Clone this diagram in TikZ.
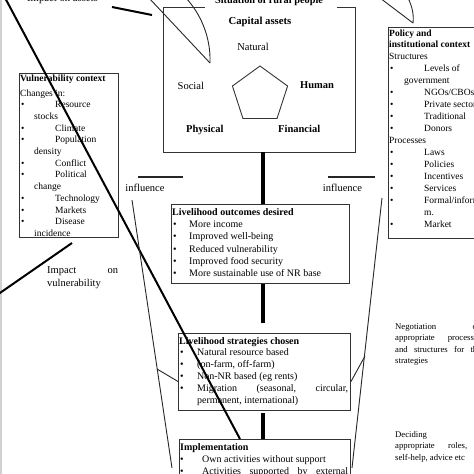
\documentclass[tikz,border=0pt]{standalone}
\usepackage{fontspec}
\setmainfont{Liberation Serif}
\usetikzlibrary{shapes.geometric}
\newcommand\lns[1]{\begin{tabular}[t]{@{}l@{}}#1\end{tabular}}
\newcommand\bulw[2]{\hspace*{1pt}\makebox[#1][l]{\textbullet}#2}
\begin{document}
\begin{tikzpicture}[x=1pt,y=-1pt,
  boxline/.style={draw=black!80,line width=1pt},
  box/.style={boxline,inner sep=0pt,anchor=north west},
  txt/.style={inner sep=0pt,anchor=base west,font=\fontsize{10}{12}\selectfont},
  ctxt/.style={inner sep=0pt,anchor=base,font=\fontsize{10.5}{12}\selectfont},
  small/.style={inner sep=0pt,anchor=base west,font=\fontsize{8.7}{11.5}\selectfont},
  heavy/.style={line width=4pt,black},
  diag/.style={line width=2pt,black},
  thinline/.style={line width=0.9pt,black!85}]
\useasboundingbox (0,0) rectangle (474,474);
\fill[black!18] (0,0) rectangle (1.8,474);

% top-left label and wedges
\node[ctxt,font=\fontsize{10.7}{12}\selectfont] (ia) at (62.5,1.5) {Impact on assets};
\coordinate (ia0) at (112,7);
\coordinate (ia1) at (152,15);
\draw[diag] (ia0) -- (ia1);
\coordinate (wl0) at (149,-2);
\coordinate (wl1) at (186,-2);
\coordinate (wlp) at (210,63);
\draw[thinline] (wl0) -- (wlp);
\draw[thinline] (wl1) .. controls (199,12) and (211,35) .. (wlp);
\coordinate (wr0) at (380,-2);
\coordinate (wr1) at (408,-2);
\coordinate (wrp) at (413,23);
\draw[thinline] (wr0) -- (wrp);
\draw[thinline] (wr1) .. controls (412,6) and (414,14) .. (wrp);

% situation box
\node[inner sep=0pt,minimum width=192pt,minimum height=145pt,anchor=north west] (sit) at (163,7) {};
\node[ctxt,font=\fontsize{10.3}{12}\selectfont\bfseries] (sittitle) at (269,3) {Situation of rural people};
\coordinate (sg1) at (205,7);
\coordinate (sg2) at (337,7);
\draw[boxline] (sg1) -- (sit.north west) -- (sit.south west) -- (sit.south east) -- (sit.north east) -- (sg2);
\node[ctxt,font=\fontsize{10.7}{12}\selectfont\bfseries] (cap) at (260,24.5) {Capital assets};
\node[ctxt] (nat) at (253,50.5) {Natural};
\node[txt,font=\fontsize{10.5}{12}\selectfont] (soc) at (177.5,89.5) {Social};
\node[txt,font=\fontsize{10.5}{12}\selectfont\bfseries] (hum) at (300,88.5) {Human};
\node[txt,font=\fontsize{10.5}{12}\selectfont\bfseries] (phy) at (186,132.5) {Physical};
\node[txt,font=\fontsize{10.5}{12}\selectfont\bfseries] (fin) at (278,132.5) {Financial};
\node[regular polygon,regular polygon sides=5,minimum size=58pt,inner sep=0pt,draw=black!80,line width=0.9pt] (pent) at (260,95) {};

% influence
\coordinate (il0) at (138,177);
\coordinate (il1) at (183,177);
\draw[thinline,line width=1.1pt] (il0) -- (il1);
\node[ctxt] (infl) at (145,191) {influence};
\coordinate (ir0) at (328,177);
\coordinate (ir1) at (375,177);
\draw[thinline,line width=1.1pt] (ir0) -- (ir1);
\node[ctxt] (infr) at (342.5,191) {influence};

% vulnerability context
\node[box,minimum width=99pt,minimum height=164pt] (vul) at (19,73) {};
\node[txt,font=\fontsize{9.5}{11.7}\selectfont\bfseries] (vult) at (20,81.5) {Vulnerability context};
\begin{scope}
\clip (19,73) rectangle (118,237);
\node[txt,font=\fontsize{9.5}{11.7}\selectfont] (vull) at (20,96) {\lns{Changes in:\\
\bulw{34pt}{Resource}\\
\hspace*{14pt}stocks\\
\bulw{34pt}{Climate}\\
\bulw{34pt}{Population}\\
\hspace*{14pt}density\\
\bulw{34pt}{Conflict}\\
\bulw{34pt}{Political}\\
\hspace*{14pt}change\\
\bulw{34pt}{Technology}\\
\bulw{34pt}{Markets}\\
\bulw{34pt}{Disease}\\
\hspace*{14pt}incidence}};
\end{scope}
\node[txt,font=\fontsize{10.5}{13}\selectfont] (iv) at (47,273) {\lns{\makebox[71pt][s]{Impact\hfill on}\\ vulnerability}};
\coordinate (iv0) at (-3,295);
\coordinate (iv1) at (72,243);
\draw[diag] (iv0) -- (iv1);

% policy context
\node[box,minimum width=120pt,minimum height=211pt] (pol) at (388,27) {};
\node[txt,font=\fontsize{9.5}{11.95}\selectfont] (polt) at (389,36) {\lns{\textbf{Policy and}\\
\textbf{institutional context}\\
Structures\\
\bulw{34pt}{Levels of}\\
\hspace*{15pt}government\\
\bulw{34pt}{NGOs/CBOs}\\
\bulw{34pt}{Private sector}\\
\bulw{34pt}{Traditional}\\
\bulw{34pt}{Donors}\\
Processes\\
\bulw{34pt}{Laws}\\
\bulw{34pt}{Policies}\\
\bulw{34pt}{Incentives}\\
\bulw{34pt}{Services}\\
\bulw{34pt}{Formal/inform}\\
\hspace*{35pt}m.\\
\bulw{34pt}{Market}}};

% livelihood outcomes
\node[box,minimum width=178pt,minimum height=79pt] (out) at (171,204) {};
\node[txt,font=\fontsize{10}{12}\selectfont\bfseries] (outt) at (172,215.5) {Livelihood outcomes desired};
\node[txt,font=\fontsize{10}{12.3}\selectfont] (outl) at (172,227.5) {\lns{\bulw{16pt}{More income}\\
\bulw{16pt}{Improved well-being}\\
\bulw{16pt}{Reduced vulnerability}\\
\bulw{16pt}{Improved food security}\\
\bulw{16pt}{More sustainable use of NR base}}};

% strategies
\node[box,minimum width=172pt,minimum height=77pt] (str) at (178,333) {};
\node[txt,font=\fontsize{10}{12}\selectfont\bfseries] (strt) at (179,344) {Livelihood strategies chosen};
\node[txt,font=\fontsize{10}{12.1}\selectfont] (strl) at (179,355.5) {\lns{\bulw{17pt}{Natural resource based}\\
\bulw{17pt}{(on-farm, off-farm)}\\
\bulw{17pt}{Non-NR based (eg rents)}\\
\bulw{17pt}{\makebox[151pt][s]{Migration\hfill(seasonal,\hfill circular,}}\\
\hspace*{18pt}permanent, international)}};

% implementation
\node[box,minimum width=171pt,minimum height=60pt] (imp) at (179,439) {};
\node[txt,font=\fontsize{10}{12}\selectfont\bfseries] (impt) at (180,450) {Implementation};
\node[txt,font=\fontsize{10}{12}\selectfont] (impl) at (179,462.5) {\lns{\bulw{22pt}{Own activities without support}\\
\bulw{22pt}{\makebox[146pt][s]{Activities\hfill supported\hfill by\hfill external}}}};

% heavy vertical connectors
\coordinate (vx) at (263,0);
\coordinate (g1) at (263,323);
\coordinate (g2) at (263,413);
\draw[heavy] (sit.south -| vx) -- (out.north -| vx);
\draw[heavy] (out.south -| vx) -- (g1);
\draw[heavy] (g2) -- (imp.north -| vx);

% long diagonal
\coordinate (d0) at (3,-6);
\coordinate (dx) at (240,0);
\draw[diag] (d0) -- (imp.north -| dx);

% funnel lines
\coordinate (fl0) at (132,200);
\coordinate (fl1) at (172,468);
\coordinate (fr0) at (382,198);
\coordinate (fr1) at (352,468);
\draw[thinline] (fl0) -- (fl1);
\draw[thinline] (fr0) -- (fr1);
\coordinate (lc) at (157,369);
\coordinate (rc) at (365,356);
\draw[thinline] (lc) -- ([yshift=-9.5pt]str.west);
\draw[thinline] ([yshift=-9.5pt]str.east) -- (rc);

% right notes
\node[small] (neg) at (395,329) {\lns{\makebox[86pt][s]{Negotiation\hfill on}\\
\makebox[86pt][s]{appropriate\hfill processes}\\
\makebox[86pt][s]{and\hfill structures\hfill for\hfill the}\\
strategies}};
\node[small] (dec) at (395,437) {\lns{Deciding\\
\makebox[72pt][s]{appropriate\hfill roles,}\\
self-help, advice etc}};
\end{tikzpicture}
\end{document}
